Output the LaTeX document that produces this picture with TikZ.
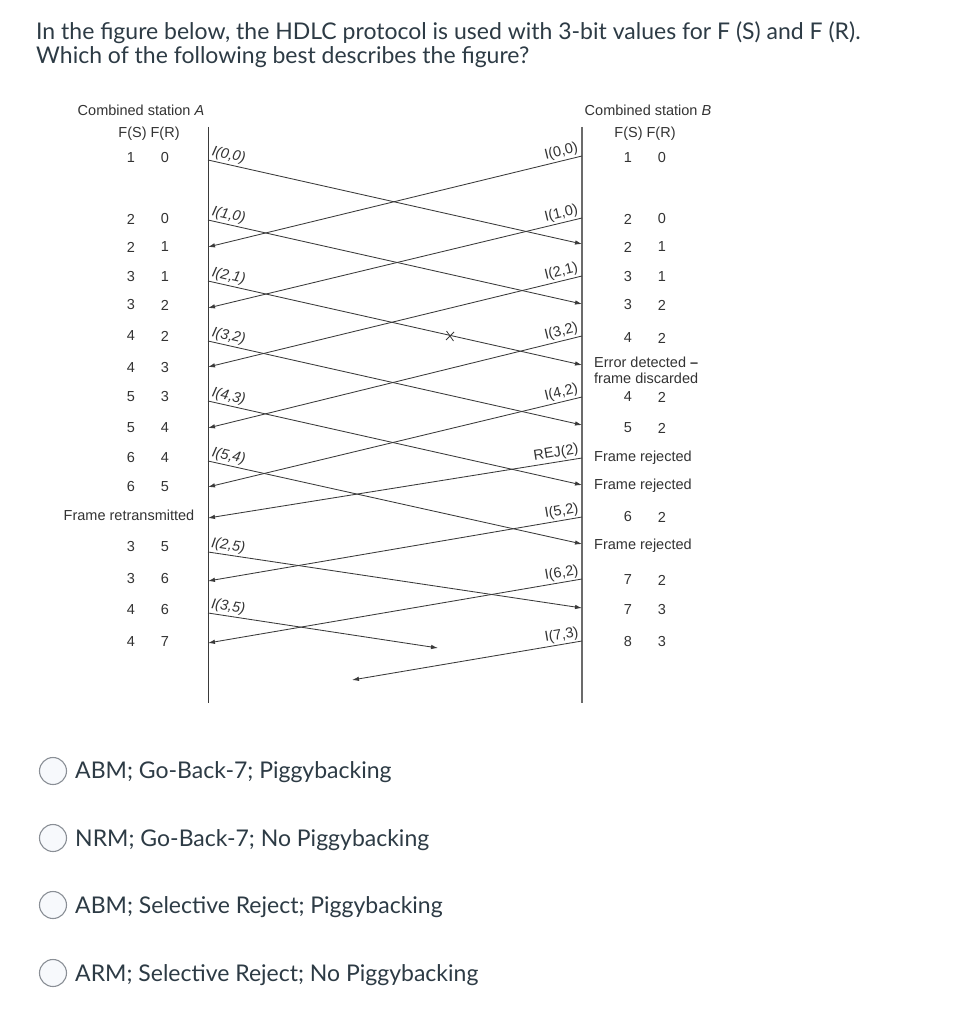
\documentclass[tikz,border=0pt]{standalone}
\usepackage{fontspec}
\setmainfont{Lato}
\newfontfamily\hv{Liberation Sans}
\usetikzlibrary{arrows.meta}
\definecolor{qtext}{HTML}{2D3B45}
\definecolor{ln}{HTML}{3A3A3A}
\definecolor{dt}{HTML}{333333}
\definecolor{circ}{HTML}{8A8F96}
\definecolor{circfill}{HTML}{F7F9FC}
\newcommand\dfont{\hv\fontsize{14.5}{16}\selectfont}
\begin{document}
\begin{tikzpicture}[x=1pt,y=-1pt,
  tlA/.style={draw=ln, line width=0.9pt},
  tlB/.style={draw=ln!75, line width=1.6pt},
  msg/.style={draw=ln, line width=0.85pt, -{Latex[length=7pt,width=4.5pt]}},
  dtxt/.style={font=\dfont, text=dt, inner sep=0pt},
  lablA/.style={font=\dfont\itshape, text=dt, inner sep=2pt, anchor=south west},
  lablB/.style={font=\dfont, text=dt, inner sep=2pt, anchor=south east},
  qline/.style={font=\fontsize{23}{27}\selectfont, text=qtext, inner sep=0pt, anchor=base west},
  opt/.style={font=\fontsize{23}{27}\selectfont, text=qtext, inner sep=0pt, anchor=base west},
  radio/.style={circle, draw=circ, fill=circfill, line width=1.1pt, minimum size=27pt, inner sep=0pt}
]
\useasboundingbox[fill=white] (0,0) rectangle (954,1024);

% question
\node[qline] (q1) at (36,40) {In the figure below, the HDLC protocol is used with 3-bit values for F (S) and F (R).};
\node[qline] (q2) at (36,64) {Which of the following best describes the figure?};

% timelines
\coordinate (Atop) at (208,127);
\coordinate (Abot) at (208,703);
\coordinate (Btop) at (582,127);
\coordinate (Bbot) at (582,703);
\draw[tlA] (Atop) -- (Abot);
\draw[tlB] (Btop) -- (Bbot);

% headers
\node[dtxt] (hA) at (141,110) {Combined station \textit{A}};
\node[dtxt] (fA) at (149,134) {F(S) F(R)};
\node[dtxt] (hB) at (648,110) {Combined station \textit{B}};
\node[dtxt] (fB) at (645,134) {F(S) F(R)};

% station A values
\foreach \y/\s/\r [count=\i] in {158/1/0,219/2/0,247/2/1,277/3/1,305/3/2,336/4/2,368/4/3,397/5/3,428/5/4,458/6/4,487/6/5,547/3/5,579/3/6,610/4/6,642/4/7}{
  \node[dtxt] (sA\i) at (131,\y) {\s};
  \node[dtxt] (rA\i) at (165,\y) {\r};
}
\node[dtxt] (retx) at (129,515) {Frame retransmitted};

% station B values
\foreach \y/\s/\r [count=\i] in {158/1/0,219/2/0,247/2/1,277/3/1,305/3/2,338/4/2,397/4/2,428/5/2,517/6/2,580/7/2,610/7/3,642/8/3}{
  \node[dtxt] (sB\i) at (628,\y) {\s};
  \node[dtxt] (rB\i) at (662,\y) {\r};
}
\node[dtxt, anchor=west, align=left] (err) at (594,370) {Error detected \textbf{–}\\frame discarded};
\node[dtxt, anchor=west] (rej1) at (594,458) {Frame rejected};
\node[dtxt, anchor=west] (rej2) at (594,486) {Frame rejected};
\node[dtxt, anchor=west] (rej3) at (594,546) {Frame rejected};

% frames A -> B
\foreach \ya/\yb/\lab [count=\n] in {160/244/{I(0,0)},220/304/{I(1,0)},281/365/{I(2,1)},341/425/{I(3,2)},401/485/{I(4,3)},461/544/{I(5,4)},552/608/{I(2,5)}}{
  \coordinate (as\n) at (208,\ya);
  \coordinate (ae\n) at (582,\yb);
  \draw[msg] (as\n) -- (ae\n);
  \pgfmathsetmacro\ang{-atan((\yb-\ya)/374)}
  \node[lablA, rotate=\ang] (la\n) at (as\n) {\lab};
}
\coordinate (as8) at (208,613);
\coordinate (ae8) at (438,648);
\draw[msg] (as8) -- (ae8);
\node[lablA, rotate=-8.65] (la8) at (as8) {I(3,5)};

% lost frame mark
\coordinate (lost) at (450,336);
\draw[ln, line width=0.8pt] (lost) ++(-3.5,-5) -- ++(7,10) (lost) ++(4,-4) -- ++(-8,8);

% frames B -> A
\foreach \yb/\ya/\lab [count=\n] in {156/247/{I(0,0)},218/308/{I(1,0)},276/367/{I(2,1)},336/428/{I(3,2)},397/487/{I(4,2)},458/518/{REJ(2)},517/581/{I(5,2)},579/643/{I(6,2)}}{
  \coordinate (bs\n) at (582,\yb);
  \coordinate (be\n) at (208,\ya);
  \draw[msg] (bs\n) -- (be\n);
  \pgfmathsetmacro\ang{atan((\ya-\yb)/374)}
  \node[lablB, rotate=\ang] (lb\n) at (bs\n) {\lab};
}
\coordinate (bs9) at (582,641);
\coordinate (be9) at (352,680);
\draw[msg] (bs9) -- (be9);
\node[lablB, rotate=9.6] (lb9) at (bs9) {I(7,3)};

% options
\node[radio] (c1) at (53,771) {};
\node[radio] (c2) at (53,838) {};
\node[radio] (c3) at (53,905) {};
\node[radio] (c4) at (53,973) {};
\node[opt] (o1) at (75,778) {ABM; Go-Back-7; Piggybacking};
\node[opt] (o2) at (75,846) {NRM; Go-Back-7; No Piggybacking};
\node[opt] (o3) at (75,913) {ABM; Selective Reject; Piggybacking};
\node[opt] (o4) at (75,981) {ARM; Selective Reject; No Piggybacking};
\end{tikzpicture}
\end{document}
